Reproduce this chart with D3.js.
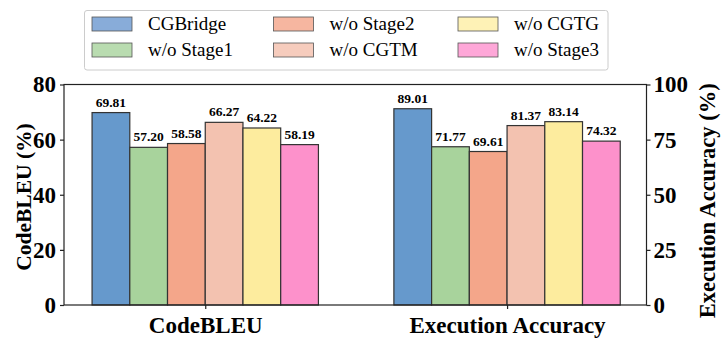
<!DOCTYPE html>
<html><head><meta charset="utf-8">
<script src="https://cdn.jsdelivr.net/npm/d3@7"></script>
<style>body{margin:0;background:#fff}svg{display:block}svg text{font-family:"Liberation Serif","Times New Roman",serif !important}</style>
</head><body>
<script>
const categories = ["CodeBLEU", "Execution Accuracy"];
const seriesNames = ["CGBridge", "w/o Stage1", "w/o Stage2", "w/o CGTM", "w/o CGTG", "w/o Stage3"];
const codeBLEU = [69.81, 57.20, 58.58, 66.27, 64.22, 58.19];
const execAcc = [89.01, 71.77, 69.61, 81.37, 83.14, 74.32];
const colors = ["#6699cc", "#a8d39c", "#f4a68a", "#f3c2b0", "#fdec9e", "#fd91cb"];
const legendColors = ["#88acd9", "#b9dcb0", "#f6b6a0", "#f6ccbd", "#fef2b6", "#fea7d8"];
const leftTicks = [0, 20, 40, 60, 80];
const rightTicks = [0, 25, 50, 75, 100];

const W = 721, H = 356;
const L = 64, R = 646.5, T = 84.5, B = 305;
const svg = d3.select("body").append("svg").attr("width", W).attr("height", H);

const x = d3.scaleLinear().domain([-0.468, 1.462]).range([L, R]);
const yL = d3.scaleLinear().domain([0, 80]).range([B, T]);
const yR = d3.scaleLinear().domain([0, 100]).range([B, T]);
const bw = 0.125;

const data = [
  {cat: 0, vals: codeBLEU, y: yL},
  {cat: 1, vals: execAcc, y: yR}
];

data.forEach(g => {
  g.vals.forEach((v, i) => {
    const x0 = g.cat - 3 * bw + i * bw;
    svg.append("rect")
      .attr("x", x(x0)).attr("width", x(x0 + bw) - x(x0))
      .attr("y", g.y(v)).attr("height", B - g.y(v))
      .attr("fill", colors[i]).attr("stroke", "#333").attr("stroke-width", 1.2);
    svg.append("text")
      .attr("x", x(x0 + bw / 2)).attr("y", g.y(v) - 6)
      .attr("text-anchor", "middle").attr("font-size", 13.5).attr("font-weight", "bold")
      .text(v.toFixed(2));
  });
});

// frame
svg.append("rect").attr("x", L).attr("y", T).attr("width", R - L).attr("height", B - T)
  .attr("fill", "none").attr("stroke", "#222").attr("stroke-width", 1.2);

const axL = svg.append("g").attr("transform", `translate(${L},0)`)
  .call(d3.axisLeft(yL).tickValues(leftTicks).tickSize(4).tickPadding(4));
const axR = svg.append("g").attr("transform", `translate(${R},0)`)
  .call(d3.axisRight(yR).tickValues(rightTicks).tickSize(4).tickPadding(3));
const axB = svg.append("g").attr("transform", `translate(0,${B})`)
  .call(d3.axisBottom(x).tickValues([0, 1]).tickFormat(i => categories[i]).tickSize(4).tickPadding(4));
[axL, axR, axB].forEach(a => {
  a.attr("font-family", null);
  a.select(".domain").remove();
  a.selectAll("line").attr("stroke", "#222").attr("stroke-width", 1.2);
  a.selectAll("text").attr("font-weight", "bold").attr("fill", "#000");
});
axL.selectAll("text").attr("font-size", 23);
axR.selectAll("text").attr("font-size", 23);
axB.selectAll("text").attr("font-size", 23).attr("dy", "0.85em");

svg.append("text").attr("transform", `translate(31,197) rotate(-90)`)
  .attr("text-anchor", "middle").attr("font-size", 21.5).attr("font-weight", "bold").text("CodeBLEU (%)");
svg.append("text").attr("transform", `translate(715,${(T + B) / 2 + 6}) rotate(-90)`)
  .attr("text-anchor", "middle").attr("font-size", 22.5).attr("font-weight", "bold").text("Execution Accuracy (%)");

// legend
const lg = svg.append("g");
lg.append("rect").attr("x", 84.5).attr("y", 10.5).attr("width", 523.5).attr("height", 59.5)
  .attr("rx", 2.5).attr("fill", "#fff").attr("stroke", "#ccc").attr("stroke-width", 1);
const colX = [92, 273.5, 458];
const rowY = [17, 43];
seriesNames.forEach((n, i) => {
  const c = Math.floor(i / 2), r = i % 2;
  lg.append("rect").attr("x", colX[c]).attr("y", rowY[r]).attr("width", 40).attr("height", 14)
    .attr("fill", legendColors[i]).attr("stroke", "#555").attr("stroke-width", 0.8);
  lg.append("text").attr("x", colX[c] + 56).attr("y", rowY[r] + 13)
    .attr("font-size", 19).text(n);
});
</script>
</body></html>
